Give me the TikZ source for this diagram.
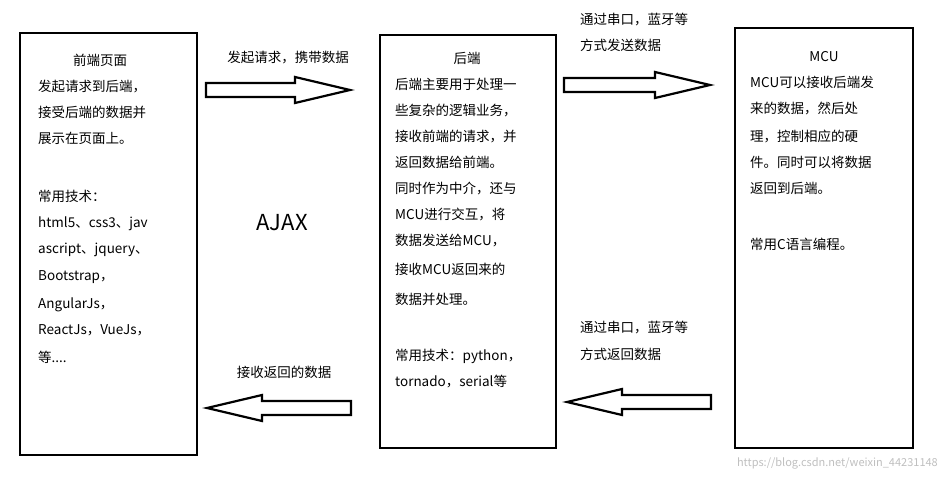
\documentclass[tikz,border=0pt]{standalone}
\usepackage{fontspec}
\setmainfont{Noto Sans CJK SC}
\begin{document}
\begin{tikzpicture}[x=1pt,y=-1pt,
  box/.style={draw,line width=2pt},
  txt/.style={anchor=base west,font=\fontsize{13.5}{16}\selectfont,inner sep=0pt},
  ctxt/.style={anchor=base,font=\fontsize{13.5}{16}\selectfont,inner sep=0pt},
  harrow/.style={draw,line width=2.2pt,fill=white}]
\useasboundingbox (0,0) rectangle (947,478);
\draw[box] (20,33) rectangle (197,455);
\draw[box] (380,35) rectangle (556,448);
\draw[box] (735,28) rectangle (913,448);
% arrows
\def\rarrow#1#2#3{\draw[harrow] (#1,#3-7) -- (#2-55,#3-7) -- (#2-55,#3-13) -- (#2,#3) -- (#2-55,#3+13) -- (#2-55,#3+7) -- (#1,#3+7) -- cycle;}
\def\larrow#1#2#3{\draw[harrow] (#2,#3-7) -- (#1+55,#3-7) -- (#1+55,#3-13) -- (#1,#3) -- (#1+55,#3+13) -- (#1+55,#3+7) -- (#2,#3+7) -- cycle;}
\rarrow{206}{350}{90}
\rarrow{564}{710}{85}
\larrow{207}{351}{408}
\larrow{567}{711}{402}
% box 1
\node[ctxt] (t1) at (100,66) {前端页面};
\foreach \y/\s in {92/{发起请求到后端，},118/{接受后端的数据并},144/{展示在页面上。},202/{常用技术：},228/{html5、css3、jav},254/{ascript、jquery、},280/{Bootstrap，},308/{AngularJs，},334/{ReactJs，VueJs，}}
  \node[txt] at (38,\y) {\s};
\node[txt] (dots) at (38,362) {等....};
% box 2
\node[ctxt] (t2) at (467,64) {后端};
\foreach \y/\s in {90/{后端主要用于处理一},116/{些复杂的逻辑业务，},142/{接收前端的请求，并},168/{返回数据给前端。},194/{同时作为中介，还与},220/{MCU进行交互，将},246/{数据发送给MCU，},274/{接收MCU返回来的},304/{数据并处理。},360/{常用技术：python，},386/{tornado，serial等}}
  \node[txt] at (395,\y) {\s};
% box 3
\node[ctxt] (t3) at (824,62) {MCU};
\foreach \y/\s in {88/{MCU可以接收后端发},114/{来的数据，然后处},142/{理，控制相应的硬},168/{件。同时可以将数据},194/{返回到后端。},250/{常用C语言编程。}}
  \node[txt] at (750,\y) {\s};
% labels
\node[ctxt] (l1) at (288,63) {发起请求，携带数据};
\node[ctxt,font=\fontsize{22}{26}\selectfont] (aj) at (282,231) {AJAX};
\node[ctxt] (l2) at (284,377) {接收返回的数据};
\node[txt] (l3) at (580,25) {通过串口，蓝牙等};
\node[txt] (l4) at (580,51) {方式发送数据};
\node[txt] (l5) at (580,332) {通过串口，蓝牙等};
\node[txt] (l6) at (580,359) {方式返回数据};
\node[anchor=base east,inner sep=0pt,text=black!25,font=\fontsize{11}{13}\selectfont] (wm) at (938,466) {https://blog.csdn.net/weixin\_44231148};
\end{tikzpicture}
\end{document}
